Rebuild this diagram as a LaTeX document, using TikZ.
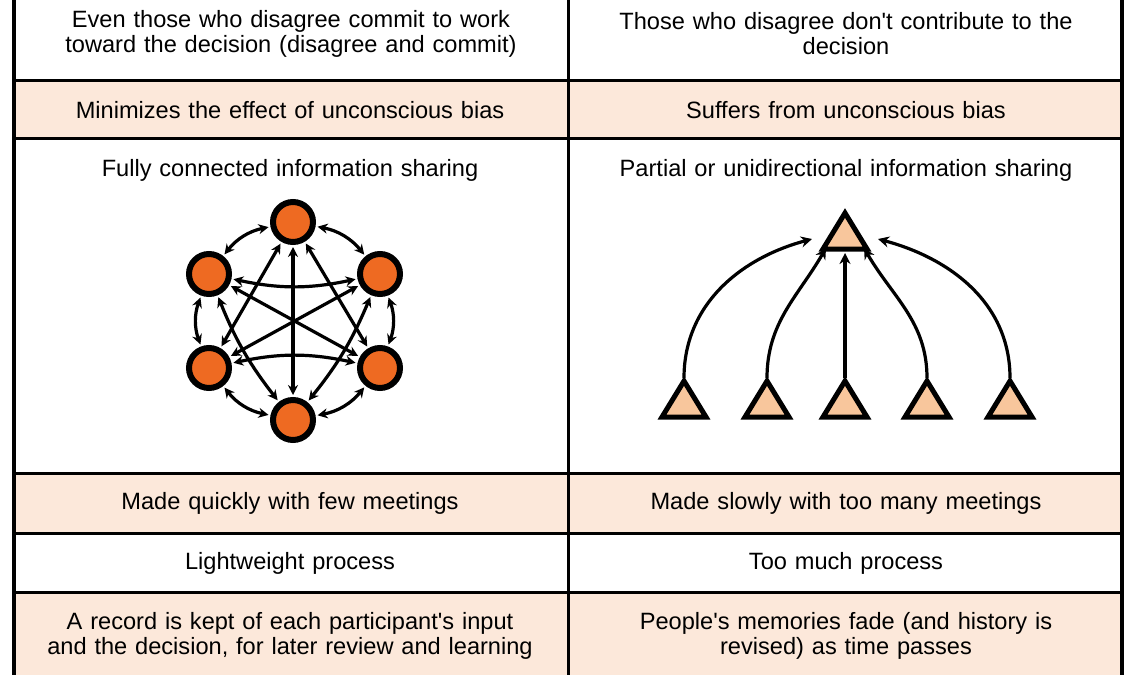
\documentclass[tikz,border=0pt]{standalone}
\usepackage{fontspec}
\setmainfont{Liberation Sans}
\usetikzlibrary{arrows.meta}
\definecolor{peach}{HTML}{FCE8DA}
\definecolor{dot}{HTML}{EE6A22}
\definecolor{tri}{HTML}{F8C69C}
\newcommand{\q}{\textquotesingle}
\begin{document}
\begin{tikzpicture}[x=1pt,y=-1pt,
  cell/.style={font=\fontsize{23.6}{25}\selectfont,align=center,text width=540pt},
  dotn/.style={circle,draw=black,line width=6pt,fill=dot,minimum size=40pt,inner sep=0},
  trin/.style={draw=black,line width=5pt,fill=tri,line join=miter,inner sep=0},
  ar/.style={{Stealth[length=10pt,width=10pt]}-{Stealth[length=10pt,width=10pt]},line width=3.2pt,shorten <=2pt,shorten >=2pt},
  ua/.style={-{Stealth[length=11pt,width=11pt]},line width=3.2pt}]
\useasboundingbox (0,0) rectangle (1137,675);
\fill[white] (0,0) rectangle (1137,675);
\fill[peach] (14,80) rectangle (1122,138);
\fill[peach] (14,473) rectangle (1122,533);
\fill[peach] (14,592) rectangle (1122,675);
\foreach \y in {80,138,473,533,592} \draw[line width=3pt] (14,\y) -- (1122,\y);
\draw[line width=4pt] (14,0) -- (14,675);
\draw[line width=4pt] (1122,0) -- (1122,675);
\draw[line width=3pt] (568,0) -- (568,675);
% texts
\node[cell] (a1) at (291,34) {Even those who disagree commit to work\\toward the decision (disagree and commit)};
\node[cell] (b1) at (846,34) {Those who disagree don\q t contribute to the\\decision};
\node[cell] (a2) at (290,110) {Minimizes the effect of unconscious bias};
\node[cell] (b2) at (846,110) {Suffers from unconscious bias};
\node[cell] (a3) at (290,170) {Fully connected information sharing};
\node[cell] (b3) at (846,170) {Partial or unidirectional information sharing};
\node[cell] (a4) at (290,503) {Made quickly with few meetings};
\node[cell] (b4) at (846,503) {Made slowly with too many meetings};
\node[cell] (a5) at (290,563) {Lightweight process};
\node[cell] (b5) at (846,563) {Too much process};
\node[cell] (a6) at (290,636) {A record is kept of each participant\q s input\\and the decision, for later review and learning};
\node[cell] (b6) at (846,636) {People\q s memories fade (and history is\\revised) as time passes};
% network
\node[dotn] (t) at (293,222) {};
\node[dotn] (ul) at (209,274) {};
\node[dotn] (ur) at (380,274) {};
\node[dotn] (ll) at (209,368) {};
\node[dotn] (lr) at (380,368) {};
\node[dotn] (bo) at (293,420) {};
\draw[ar] (t) to[bend right=20] (ul);
\draw[ar] (t) to[bend left=20] (ur);
\draw[ar] (ul) to[bend right=20] (ll);
\draw[ar] (ur) to[bend left=20] (lr);
\draw[ar] (ll) to[bend right=20] (bo);
\draw[ar] (lr) to[bend left=20] (bo);
\draw[ar] (ul) to[bend right=12] (ur);
\draw[ar] (ll) to[bend left=12] (lr);
\draw[ar] (t) -- (bo);
\draw[ar] (t) -- (ll);
\draw[ar] (t) -- (lr);
\draw[ar] (ul) -- (lr);
\draw[ar] (ur) -- (ll);
\draw[ar] (ul) to[bend right=8] (bo);
\draw[ar] (ur) to[bend left=8] (bo);
% triangles
\foreach \n/\x in {p1/684,p2/767,p3/845,p4/927,p5/1010}{
  \draw[trin] (\x-22,417) -- (\x,381) -- (\x+22,417) -- cycle;
  \coordinate (\n) at (\x,378);
}
\draw[trin] (823,249) -- (845,213) -- (867,249) -- cycle;
\draw[ua] (p1) to[out=90,in=195] (812,239);
\draw[ua] (p2) to[out=90,in=240] (826,248);
\draw[ua] (p3) -- (845,253);
\draw[ua] (p4) to[out=90,in=300] (864,248);
\draw[ua] (p5) to[out=90,in=345] (878,239);
\end{tikzpicture}
\end{document}
